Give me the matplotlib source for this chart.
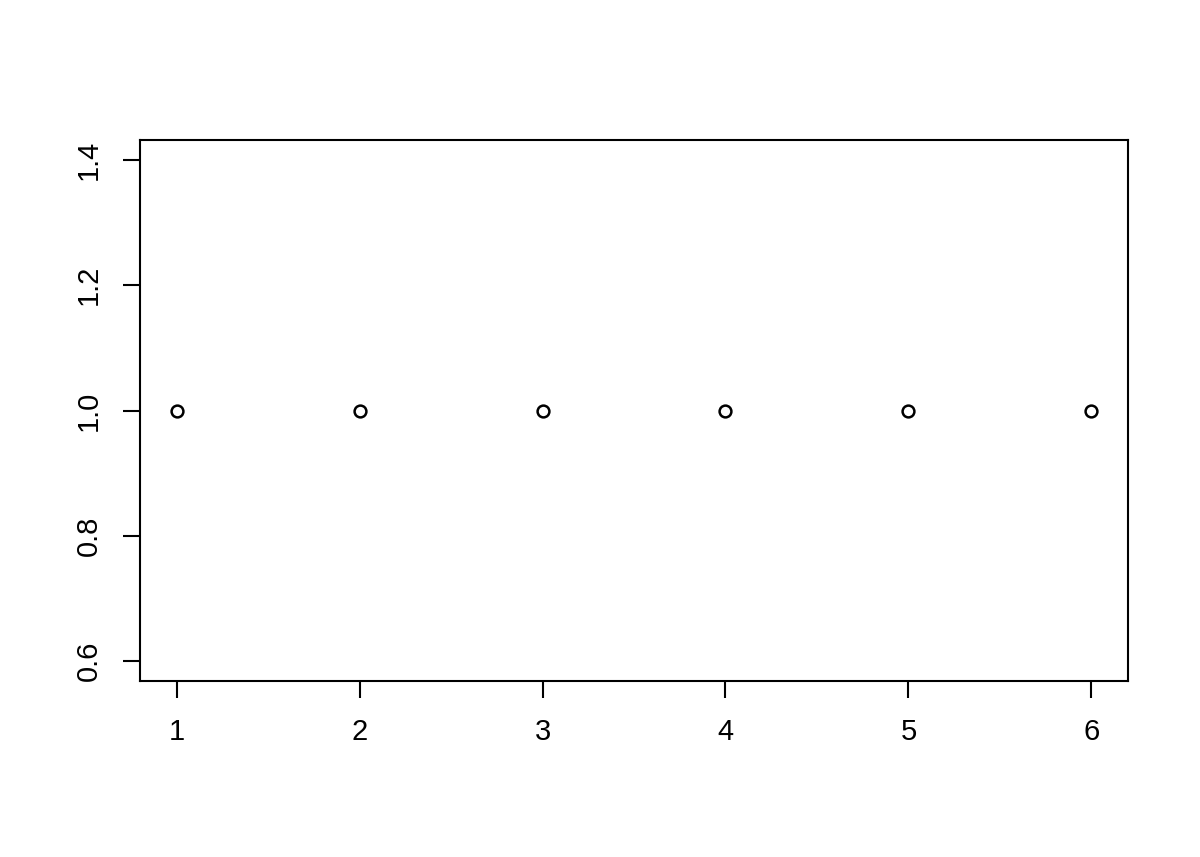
import matplotlib
matplotlib.use("Agg")
import matplotlib.pyplot as plt

plt.rcParams['font.family'] = ['Liberation Sans', 'DejaVu Sans']

x_vals = [1, 2, 3, 4, 5, 6]
y_vals = [1, 1, 1, 1, 1, 1]
x_ticks = [1, 2, 3, 4, 5, 6]
y_ticks = [0.6, 0.8, 1.0, 1.2, 1.4]

fig = plt.figure(figsize=(12, 8.57), dpi=100)
ax = fig.add_axes([140 / 1200, 1 - 681 / 857, 988 / 1200, 541 / 857])

ax.plot(x_vals, y_vals, linestyle='none', marker='o', markersize=8.5,
        markerfacecolor='none', markeredgecolor='black', markeredgewidth=1.8)

ax.set_xlim(0.8, 6.2)
ax.set_ylim(0.568, 1.432)
ax.set_xticks(x_ticks)
ax.set_xticklabels([str(v) for v in x_ticks])
ax.set_yticks(y_ticks)
ax.set_yticklabels([f'{v:.1f}' for v in y_ticks], rotation=90, va='center')

for s in ax.spines.values():
    s.set_linewidth(1.5)
ax.tick_params(length=12, width=1.5, labelsize=21, pad=15)

fig.savefig('out.png', dpi=100)
